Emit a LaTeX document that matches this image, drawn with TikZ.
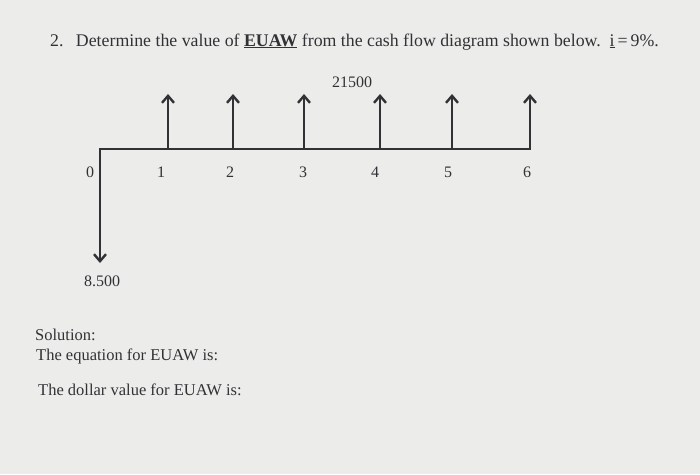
\documentclass[tikz,border=0pt]{standalone}
\usepackage{fontspec}
\setmainfont{Liberation Serif}
\usetikzlibrary{arrows.meta}
\definecolor{bg}{RGB}{236,236,234}
\definecolor{ink}{RGB}{50,50,54}
\begin{document}
\begin{tikzpicture}[x=1pt,y=-1pt,
  txt/.style={inner sep=0pt,text=ink},
  lbl/.style={inner sep=0pt,text=ink,font=\fontsize{16}{19}\selectfont},
  flow/.style={draw=ink,line width=2.2pt,-{Straight Barb[length=7pt,width=12pt,line width=2.4pt]}},
  axis/.style={draw=ink,line width=2.2pt}]
\fill[bg] (0,0) rectangle (700,474);
\useasboundingbox (0,0) rectangle (700,474);
% title
\node[txt,anchor=base west,font=\fontsize{17.8}{21}\selectfont] (title) at (50,46)
 {2.\hspace{0.7em}Determine the value of \underline{\textbf{EUAW}} from the cash flow diagram shown below.\hspace{0.5em}\underline{i}\,=\,9\%.};
% axis coordinates
\coordinate (t0) at (100,149);
\coordinate (t1) at (168,149);
\coordinate (t2) at (233,149);
\coordinate (t3) at (304,149);
\coordinate (t4) at (380,149);
\coordinate (t5) at (452,149);
\coordinate (t6) at (530,149);
\foreach \i/\x in {1/168,2/233,3/304,4/380,5/452,6/530}
  \coordinate (u\i) at (\x,94);
\coordinate (d0) at (100,263);
\draw[axis,line cap=rect] (t0) -- (t6);
\foreach \i in {1,...,6} \draw[flow] (t\i) -- (u\i);
\draw[flow] (t0) -- (d0);
% labels
\node[lbl,anchor=base] (l0) at (90,177) {0};
\node[lbl,anchor=base] (l1) at (161,177) {1};
\node[lbl,anchor=base] (l2) at (230,177) {2};
\node[lbl,anchor=base] (l3) at (303,177) {3};
\node[lbl,anchor=base] (l4) at (375,177) {4};
\node[lbl,anchor=base] (l5) at (448,177) {5};
\node[lbl,anchor=base] (l6) at (527,177) {6};
\node[lbl,anchor=base] (amt) at (352,87) {21500};
\node[lbl,anchor=base] (neg) at (102,286) {8.500};
% solution
\node[txt,anchor=base west,font=\fontsize{16.5}{19}\selectfont] (sol) at (35,340) {Solution:};
\node[txt,anchor=base west,font=\fontsize{16.5}{19}\selectfont] (eq) at (36,360) {The equation for EUAW is:};
\node[txt,anchor=base west,font=\fontsize{16.5}{19}\selectfont] (val) at (38,395) {The dollar value for EUAW is:};
\end{tikzpicture}
\end{document}
